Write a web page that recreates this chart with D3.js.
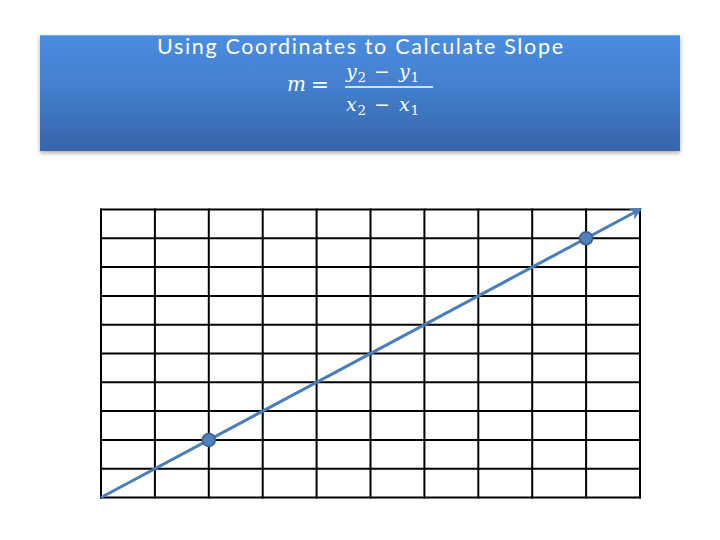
<!DOCTYPE html>
<html>
<head>
<meta charset="utf-8">
<script src="https://cdn.jsdelivr.net/npm/d3@7/dist/d3.min.js"></script>
<style>
  html, body { margin: 0; padding: 0; background: #ffffff; }
  svg { display: block; }
</style>
</head>
<body>
<svg id="chart" width="720" height="540"></svg>
<script>
// ---- data ----
const titleText = "Using Coordinates to Calculate Slope";
const gridX = [0, 1, 2, 3, 4, 5, 6, 7, 8, 9, 10];
const gridY = [0, 1, 2, 3, 4, 5, 6, 7, 8, 9, 10];
const lineX = [0, 10];
const lineY = [0, 10];
const pointX = [2, 9];
const pointY = [2, 9];

// ---- layout ----
const svg = d3.select("#chart");
const x = d3.scaleLinear().domain([0, 10]).range([101, 640]);
const y = d3.scaleLinear().domain([0, 10]).range([497.5, 209.5]);

const defs = svg.append("defs");
const grad = defs.append("linearGradient").attr("id", "boxGrad")
  .attr("x1", 0).attr("y1", 0).attr("x2", 0).attr("y2", 1);
grad.append("stop").attr("offset", "0%").attr("stop-color", "#4b8de0");
grad.append("stop").attr("offset", "45%").attr("stop-color", "#437fcc");
grad.append("stop").attr("offset", "100%").attr("stop-color", "#3764aa");

const shadow = defs.append("filter").attr("id", "shadow")
  .attr("x", "-5%").attr("y", "-10%").attr("width", "110%").attr("height", "130%");
shadow.append("feDropShadow").attr("dx", 0).attr("dy", 2).attr("stdDeviation", 2)
  .attr("flood-color", "#000").attr("flood-opacity", 0.35);

defs.append("marker").attr("id", "arrow")
  .attr("viewBox", "0 0 10 10").attr("refX", 8).attr("refY", 5)
  .attr("markerWidth", 4.2).attr("markerHeight", 4.2)
  .attr("markerUnits", "strokeWidth")
  .attr("orient", "auto")
  .append("path").attr("d", "M0,0 L10,5 L0,10 L3,5 Z").attr("fill", "#4a7ebb");

// ---- title box ----
svg.append("rect")
  .attr("x", 40).attr("y", 35).attr("width", 640).attr("height", 116)
  .attr("fill", "url(#boxGrad)").attr("filter", "url(#shadow)");
svg.append("line").attr("x1", 40).attr("x2", 680).attr("y1", 35.5).attr("y2", 35.5)
  .attr("stroke", "#7fb0ee").attr("stroke-width", 1);

svg.append("text")
  .attr("x", 157).attr("y", 54)
  .attr("text-anchor", "start")
  .attr("font-family", "Lato, 'Open Sans', sans-serif")
  .attr("font-size", 21.5)
  .attr("textLength", 406)
  .attr("lengthAdjust", "spacing")
  .attr("fill", "#ffffff")
  .text(titleText);

const mathFont = "'DejaVu Serif', 'Liberation Serif', serif";
const formula = svg.append("g").attr("fill", "#ffffff").attr("font-family", mathFont);

formula.append("text").attr("x", 287).attr("y", 91)
  .attr("font-size", 20).attr("font-style", "italic").text("m");
formula.append("text").attr("x", 320).attr("y", 92)
  .attr("text-anchor", "middle")
  .attr("font-size", 22).text("=");

function fracPart(yBase, letter) {
  const t = formula.append("text").attr("x", 346).attr("y", yBase)
    .attr("font-size", 19);
  t.append("tspan").attr("font-style", "italic").text(letter);
  t.append("tspan").attr("font-size", 13).attr("dy", 4).attr("dx", 1).text("2");
  t.append("tspan").attr("dy", -4).attr("dx", 8).text("\u2212");
  t.append("tspan").attr("font-style", "italic").attr("dx", 9).text(letter);
  t.append("tspan").attr("font-size", 13).attr("dy", 4).attr("dx", 1).text("1");
  return t;
}
fracPart(78, "y");
fracPart(111, "x");

formula.append("line").attr("x1", 345).attr("x2", 433).attr("y1", 87).attr("y2", 87)
  .attr("stroke", "#ffffff").attr("stroke-width", 1.5);

// ---- grid ----
const grid = svg.append("g").attr("stroke", "#000").attr("stroke-width", 2);
grid.selectAll(".vx").data(gridX).join("line")
  .attr("x1", d => x(d)).attr("x2", d => x(d))
  .attr("y1", y(0) + 1).attr("y2", y(10) - 1);
grid.selectAll(".hy").data(gridY).join("line")
  .attr("y1", d => y(d)).attr("y2", d => y(d))
  .attr("x1", x(0) - 1).attr("x2", x(10) + 1);

// ---- line with arrow ----
const lineData = lineX.map((d, i) => [d, lineY[i]]);
svg.append("path")
  .datum(lineData)
  .attr("d", d3.line().x(d => x(d[0])).y(d => y(d[1])))
  .attr("stroke", "#4a7ebb").attr("stroke-width", 3).attr("fill", "none")
  .attr("marker-end", "url(#arrow)");

// ---- points ----
svg.selectAll(".pt").data(pointX.map((d, i) => [d, pointY[i]])).join("circle")
  .attr("cx", d => x(d[0])).attr("cy", d => y(d[1]))
  .attr("r", 6.5)
  .attr("fill", "#4f81bd").attr("stroke", "#385d8a").attr("stroke-width", 1.5);
</script>
</body>
</html>
